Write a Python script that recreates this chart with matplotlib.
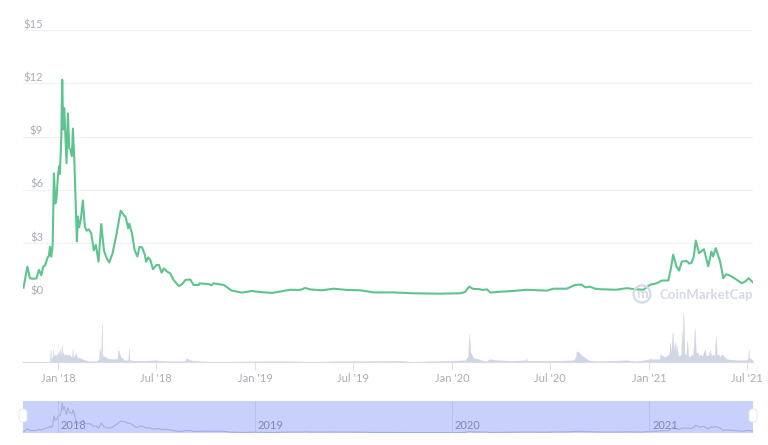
import pandas as pd
import matplotlib
matplotlib.use('Agg')
import matplotlib.pyplot as plt
from matplotlib.patches import Circle, FancyBboxPatch

plt.rcParams['font.family'] = ['Lato', 'DejaVu Sans']

W, H = 768, 445
START = pd.Timestamp('2018-01-01')

# price, days counted from 1 Jan 2018
price_days = [-64, -57, -52, -46, -40, -35.5, -31, -27.5, -24, -20, -17, -15, -12.7, -10, -7.7, -5, -3, -0.3, 2, 3.4,
              6, 7.7, 9.6, 11.4, 13.3, 15.7, 18.2, 20.7, 23.2, 25.6, 27.5, 30, 32.4, 34.9, 36.7, 39.2, 42, 46, 49.7, 53,
              57, 61.4, 66.3, 70, 75, 80, 85, 90, 95, 101, 108, 116, 123, 125, 130, 132, 137, 142, 147, 151,
              156, 161, 163, 167, 171, 176, 182, 187, 192, 196, 202, 208, 214, 224, 230, 236, 245, 251, 261, 262,
              279, 284, 288, 307, 322, 341, 359, 375, 397, 430, 449, 458, 467, 489, 511, 535, 560, 585, 622, 659,
              708, 745, 754, 762, 770, 779, 787, 795, 801, 819, 844, 868, 906, 918, 943, 958, 970, 977, 986, 995,
              1005, 1035, 1054, 1069, 1085, 1097, 1110, 1119, 1131, 1136, 1140, 1146, 1151, 1156, 1165, 1170, 1174, 1178, 1182, 1188,
              1197, 1205, 1211, 1214, 1219, 1227, 1233, 1238, 1242, 1248, 1258, 1267, 1274, 1280, 1288]
price = [0.5, 1.68, 1.02, 1.0, 1.02, 1.5, 1.2, 1.68, 1.75, 2.15, 2.3, 2.8, 2.24, 2.9, 6.93, 5.24, 5.5, 6.75, 7.35, 6.9,
         9.0, 12.2, 9.4, 10.6, 9.2, 7.5, 10.3, 8.35, 8.25, 7.9, 9.45, 7.8, 5.4, 3.1, 4.5, 3.9, 4.3, 5.4, 3.93, 3.7,
         3.78, 3.55, 2.6, 2.9, 1.96, 4.08, 2.6, 2.15, 1.92, 2.43, 3.46, 4.83, 4.53, 4.5, 3.83, 4.1, 3.55, 2.6, 2.25, 2.8,
         2.75, 2.33, 1.96, 2.2, 2.05, 1.53, 1.77, 1.77, 1.34, 1.58, 1.4, 1.3, 0.93, 0.59, 0.7, 0.93, 0.96, 0.65, 0.65, 0.74,
         0.7, 0.63, 0.74, 0.65, 0.33, 0.22, 0.31, 0.25, 0.2, 0.38, 0.37, 0.48, 0.4, 0.35, 0.44, 0.37, 0.35, 0.23, 0.23, 0.18,
         0.16, 0.18, 0.25, 0.55, 0.42, 0.42, 0.37, 0.4, 0.22, 0.27, 0.31, 0.38, 0.33, 0.44, 0.44, 0.65, 0.67, 0.52, 0.55, 0.44,
         0.41, 0.38, 0.47, 0.41, 0.38, 0.66, 0.75, 0.9, 0.9, 1.6, 2.35, 1.7, 1.46, 1.97, 2.0, 1.85, 1.9, 2.2, 3.15, 2.44,
         2.66, 1.7, 2.53, 2.25, 2.72, 1.97, 1.03, 1.25, 1.22, 1.13, 0.94, 0.75, 0.85, 1.03, 0.79]

# trading volume, same day count, in chart units
volume_days = [-15, -14, -13, -10, -9, -8, -5, -3, 0, 1, 3, 5, 6, 7, 8, 9, 11, 14, 17, 20, 23, 26, 27, 28, 30, 33, 36, 39, 45, 51, 57, 72,
               73, 76, 77, 80, 81, 82, 83, 85, 91, 100, 106, 110, 111, 112, 116, 119, 123, 130, 131, 132, 133, 143, 160, 180, 205, 235, 238, 245, 260, 290,
               390, 430, 470, 520, 570, 632, 655, 697, 755, 760, 762, 764, 765, 770, 777, 785, 793, 800, 817, 842, 867, 868, 869, 880, 895, 920, 956, 960, 961, 965, 970, 975, 985,
               1000, 1055, 1070, 1085, 1096, 1097, 1098, 1106, 1115, 1116, 1124, 1130, 1133, 1134, 1136, 1139, 1141, 1143, 1145, 1146, 1149, 1152, 1155, 1156, 1157, 1159, 1161, 1162, 1164, 1166, 1168, 1171, 1175, 1177, 1180, 1182, 1185,
               1188, 1191, 1194, 1199, 1201, 1203, 1205, 1208, 1211, 1214, 1217, 1219, 1221, 1224, 1227, 1230, 1239, 1257, 1273, 1279, 1280, 1281, 1283, 1288]
volume = [0, 13, 3, 5, 13, 5, 8, 6, 10, 7, 13, 6, 10, 17, 7, 10, 7, 8, 7, 8, 6, 5, 13, 5, 6, 9, 4, 5, 3, 2, 1, 1,
          2, 3, 14, 5, 39, 9, 5, 6, 4, 3, 3, 4, 11, 12, 5, 4, 2, 2, 14, 3, 2, 1.5, 1.5, 2, 1, 1, 4, 2, 1, 0.5,
          1, 1, 0.5, 1, 1, 1.5, 0.5, 1, 2, 6, 28, 10, 9, 4, 3.5, 2, 1, 3, 2, 1.5, 2, 4, 1.5, 1.5, 1.5, 1.5, 2, 6, 11, 10, 7, 5, 1.5,
          1, 2, 1, 2, 3, 4, 3, 3, 3, 8, 5, 7, 8, 20, 8, 30, 10, 20, 9, 18, 7, 6, 8, 30, 9, 50, 7, 8, 6, 21, 6, 5, 8, 6, 34, 9, 10,
          6, 8, 6, 13, 6, 7, 6, 12, 6, 8, 6, 26, 7, 8, 5, 8, 3, 2, 2, 3, 13, 4, 4, 1]

price_ticks = [0, 3, 6, 9, 12, 15]
price_labels = ['$0', '$3', '$6', '$9', '$12', '$15']
month_ticks = ['2018-01-01', '2018-07-01', '2019-01-01', '2019-07-01', '2020-01-01', '2020-07-01', '2021-01-01', '2021-07-01']
month_labels = ["Jan '18", "Jul '18", "Jan '19", "Jul '19", "Jan '20", "Jul '20", "Jan '21", "Jul '21"]
year_ticks = ['2018-01-01', '2019-01-01', '2020-01-01', '2021-01-01']
year_labels = ['2018', '2019', '2020', '2021']

price_dates = START + pd.to_timedelta(price_days, unit='D')
volume_dates = START + pd.to_timedelta(volume_days, unit='D')
x_min = START + pd.to_timedelta(-65, unit='D')
x_max = START + pd.to_timedelta(1288, unit='D')


def px_axes(fig, left, top, right, bottom):
    return fig.add_axes([left / W, 1 - bottom / H, (right - left) / W, (bottom - top) / H])


fig = plt.figure(figsize=(W / 100, H / 100), dpi=100)

# main price panel
ax = px_axes(fig, 23, 30, 753, 296.5)
ax.plot(price_dates, price, color='#5ec48f', lw=1.5, solid_joinstyle='round', zorder=3)
ax.set_xlim(x_min, x_max)
ax.set_ylim(0, 15)
ax.set_yticks(price_ticks)
ax.set_yticklabels(price_labels, va='bottom', ha='right', color='#a8adb9', fontsize=8)
ax.tick_params(axis='y', length=0, pad=-14.5)
ax.set_xticks([])
ax.grid(axis='y', color='#eff1f4', lw=0.8)
ax.set_axisbelow(True)
for s in ax.spines.values():
    s.set_visible(False)
ax.patch.set_alpha(0)

# watermark
fig.text(660 / W, 1 - 295 / H, 'CoinMarketCap', color='#d6dae8', fontsize=9.5, fontweight='bold', va='center', ha='left')
fig.patches.append(Circle((642, H - 294), 8.5, transform=None, fill=False, ec='#d6dae8', lw=1.6))
fig.text(642 / W, 1 - 294 / H, 'm', color='#d6dae8', fontsize=10, fontweight='bold', va='center', ha='center')

# volume panel
ax_vol = px_axes(fig, 23, 310, 753, 362.3)
ax_vol.fill_between(volume_dates, volume, 0, color='#d0d6e5', lw=0.3)
ax_vol.set_xlim(x_min, x_max)
ax_vol.set_ylim(0, 52)
ax_vol.set_yticks([])
ax_vol.set_xticks(pd.to_datetime(month_ticks))
ax_vol.set_xticklabels(month_labels, color='#a8adb9', fontsize=8)
ax_vol.tick_params(axis='x', length=6, width=0.7, color='#dfe2ea', pad=2)
for name, s in ax_vol.spines.items():
    s.set_visible(name == 'bottom')
ax_vol.spines['bottom'].set_color('#d8dce6')
ax_vol.patch.set_alpha(0)

# navigator strip
ax_nav = px_axes(fig, 23, 401, 753, 433)
ax_nav.set_facecolor('#c8d1fb')
ax_nav.plot(price_dates, price, color='#a3aee2', lw=0.8)
ax_nav.set_xlim(x_min, x_max)
ax_nav.set_ylim(0, 13)
ax_nav.set_xticks([])
ax_nav.set_yticks([])
for s in ax_nav.spines.values():
    s.set_visible(False)
for tick, label in zip(pd.to_datetime(year_ticks), year_labels):
    ax_nav.axvline(tick, color='#b8c1ec', lw=0.7)
    ax_nav.annotate(label, (tick, 0), xytext=(2, 1.5), textcoords='offset points',
                    color='#7f88b8', fontsize=8, va='bottom', ha='left')

# drag handles
for cx in [23, 753]:
    fig.patches.append(FancyBboxPatch((cx - 3, H - 421), 6, 11, boxstyle='round,pad=1,rounding_size=3',
                                      transform=None, fc='white', ec='#e6e8f0', lw=0.6, zorder=5))

fig.savefig('out.png', dpi=100)
